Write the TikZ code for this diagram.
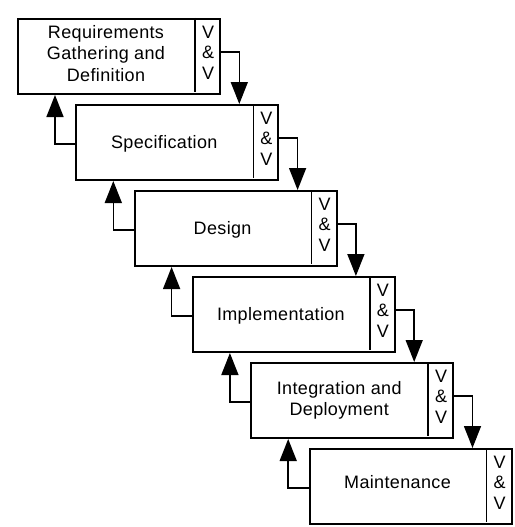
\documentclass[tikz,border=0pt]{standalone}
\usepackage{fontspec}
\setmainfont{Liberation Sans}[LetterSpace=2]
\usetikzlibrary{arrows.meta,calc}
\begin{document}
\begin{tikzpicture}[x=1pt,y=-1pt,
  box/.style={draw,line width=2pt,minimum width=202pt,minimum height=75pt,anchor=north west,inner sep=0pt},
  lbl/.style={align=center,font=\fontsize{18pt}{21.5pt}\selectfont,inner sep=0pt},
  vv/.style={align=center,font=\fontsize{18pt}{20.5pt}\selectfont,inner sep=0pt},
  divider/.style={line width=1.5pt},
  arr/.style={line width=1.5pt,-{Triangle[length=22pt,width=17pt]}}]
\useasboundingbox (0,0) rectangle (514,527);
\node[box] (b1) at (17,18) {};
\node[box] (b2) at (75.3,104) {};
\node[box] (b3) at (133.6,190) {};
\node[box] (b4) at (191.9,276) {};
\node[box] (b5) at (250.2,362) {};
\node[box] (b6) at (308.5,448) {};
\foreach \b/\t/\s in {b1/{Requirements\\Gathering and\\Definition}/3pt,
                      b2/{Specification}/-1.5pt,
                      b3/{Design}/-1.5pt,
                      b4/{Implementation}/-1.5pt,
                      b5/{Integration and\\Deployment}/0pt,
                      b6/{Maintenance}/4pt}{
  \draw[divider] ([xshift=-26pt]\b.north east) -- ([xshift=-26pt,yshift=3pt]\b.south east);
  \node[lbl,yshift=\s] (\b t) at ($(\b.north west)!0.5!([xshift=-26pt]\b.south east)$) {\t};
  \node[vv,yshift=4pt] (\b v) at ($([xshift=-26pt]\b.north east)!0.5!(\b.south east)$) {V\\\&\\V};
}
\foreach \a/\c in {b1/b2,b2/b3,b3/b4,b4/b5,b5/b6}{
  \draw[arr] ([yshift=-34pt]\a.north east) -| ([xshift=-40pt]\c.north east);
  \draw[arr] ([yshift=-40pt]\c.north west) -| ([xshift=38pt]\a.south west);
}
\end{tikzpicture}
\end{document}
